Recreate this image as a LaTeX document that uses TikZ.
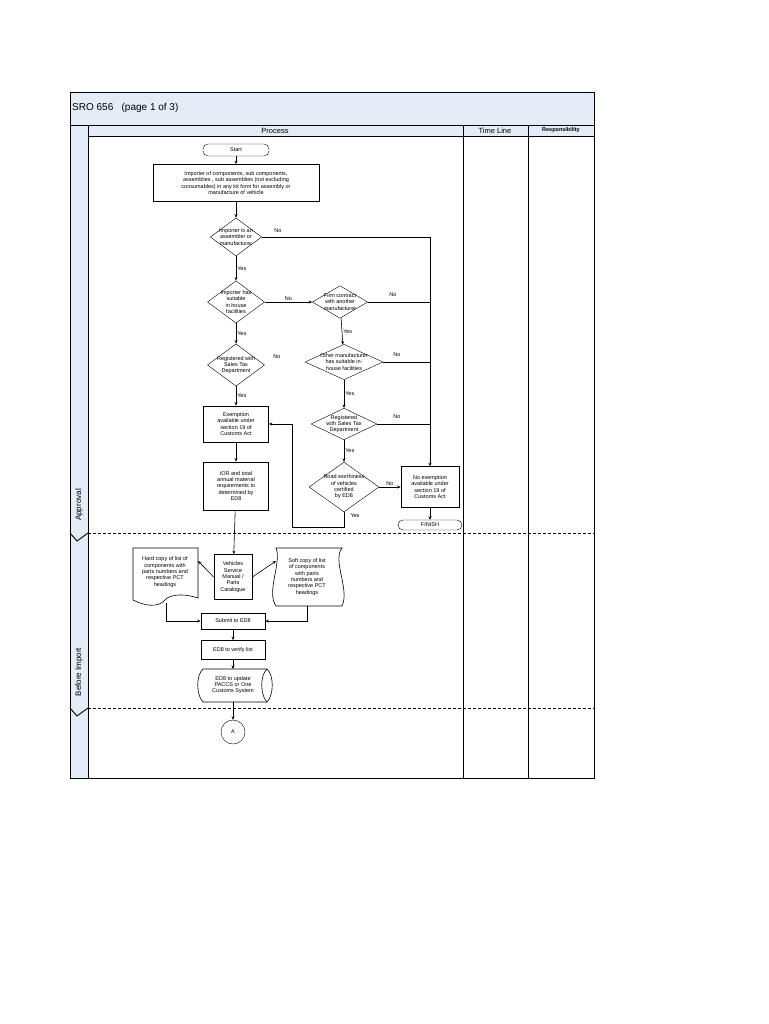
\documentclass[tikz,border=0pt]{standalone}
\usepackage{fontspec}
\setmainfont{Liberation Sans}
\usetikzlibrary{shapes.geometric,arrows.meta}
\definecolor{lb}{HTML}{E4ECF7}
\begin{document}
\begin{tikzpicture}[x=1pt,y=-1pt,
 t/.style={font=\fontsize{5.5}{6.3}\selectfont,align=center,inner sep=0.5pt},
 box/.style={t,draw,line width=0.7pt,minimum width=#1},
 dia/.style={t,draw,diamond,aspect=1.35,inner sep=-1pt},
 lab/.style={font=\fontsize{5.5}{6}\selectfont,inner sep=1pt},
 ar/.style={-{Stealth[length=3.5pt,width=3pt]},line width=0.6pt},
 ln/.style={line width=0.6pt}]
\useasboundingbox (0,0) rectangle (768,1024);
% frame
\fill[lb] (70,92) rectangle (594,125);
\fill[lb] (70,125) rectangle (88,778);
\fill[lb] (88,125) rectangle (594,136);
\draw[line width=0.8pt] (70,92) rectangle (594,778);
\draw[line width=0.8pt] (70,125) -- (594,125);
\draw (88,136) -- (594,136);
\draw (88,125) -- (88,778);
\draw (463,125) -- (463,778);
\draw (528,125) -- (528,778);
\node[anchor=west,font=\fontsize{10}{12}\selectfont,inner sep=0] (title) at (72,108) {SRO 656\ \ \ (page 1 of 3)};
\node[font=\fontsize{7.5}{8}\selectfont] (hp) at (275,130.5) {Process};
\node[font=\fontsize{7.5}{8}\selectfont] (ht) at (495,130.5) {Time Line};
\node[font=\fontsize{5.5}{6}\selectfont\bfseries] (hr) at (561,130.5) {Responsibility};
\node[rotate=90,font=\fontsize{8}{9}\selectfont] (la) at (79,505) {Approval};
\node[rotate=90,font=\fontsize{8}{9}\selectfont] (lbi) at (79,672) {Before Import};
\draw[dashed,line width=1pt,dash pattern=on 3pt off 2pt] (88,533) -- (594,533);
\draw[dashed,line width=1pt,dash pattern=on 3pt off 2pt] (88,708) -- (594,708);
\draw[line width=0.9pt] (70,533) -- (77,541) -- (88,533);
\draw[line width=0.9pt] (70,708) -- (77,716) -- (88,708);
% nodes
\node[t,draw,rounded corners=5pt,minimum width=66pt,minimum height=12pt] (start) at (236,150) {Start};
\node[box=166pt,minimum height=37pt] (b1) at (236,183) {Importer of components, sub components,\\assemblies , sub assemblies (not excluding\\consumables) in any kit form for assembly or\\manufacture of vehicle};
\node[dia] (d1) at (236,237) {Importer is an\\assembler or\\manufacturer};
\node[dia] (d2) at (236,302) {Importer has\\suitable\\in house\\facilities};
\node[dia,aspect=1.7] (d3) at (340,302) {Firm contract\\with another\\manufacturer};
\node[dia] (d4) at (236,365) {Registered with\\Sales Tax\\Department};
\node[dia,aspect=2.2] (d5) at (344,362) {Other manufacturer\\has suitable in-\\house facilities};
\node[box=65pt,minimum height=36pt] (ex) at (236,424) {Exemption\\available under\\section 19 of\\Customs Act};
\node[dia,aspect=2.1] (d6) at (344,424) {Registered\\with Sales Tax\\Department};
\node[box=65pt,minimum height=48pt] (ior) at (236,486) {IOR and total\\annual material\\requirements to\\determined by\\ED8};
\node[dia,aspect=1.4] (d7) at (344,487) {Road worthiness\\of vehicles\\certified\\by ED8};
\node[box=58pt,minimum height=41pt] (nx) at (430,487) {No exemption\\available under\\section 19 of\\Customs Act};
\node[t,draw,rounded corners=5pt,minimum width=64pt,minimum height=10pt] (fin) at (430,525) {FINISH};
\node[box=38pt,minimum height=45pt] (veh) at (233,577) {Vehicles\\Service\\Manual /\\Parts\\Catalogue};
\node[t] (hc) at (165,572) {Hard copy of list of\\components with\\parts numbers and\\respective PCT\\headings};
\draw[ln] (133,548) -- (198,548) -- (198,598) .. controls (180,592) and (168,596) .. (165,600) .. controls (158,608) and (145,606) .. (133,600) -- cycle;
\node[t] (sc) at (307,577) {Soft copy of list\\of components\\with parts\\numbers and\\respective PCT\\headings};
\draw[ln] (276,548) -- (342,548) .. controls (332,560) and (350,590) .. (342,606) -- (276,606) .. controls (266,592) and (282,562) .. (276,548) -- cycle;
\node[box=64pt,minimum height=16pt] (sub) at (233,621) {Submit to ED8};
\node[box=64pt,minimum height=19pt] (ver) at (233,650) {ED8 to verify list};
\node[t] (upd) at (233,685) {ED8 to update\\PACCS or One\\Customs System};
\draw[ln] (203,669) -- (267,669) .. controls (274,675) and (274,695) .. (267,702) -- (203,702) .. controls (196,695) and (196,675) .. (203,669);
\draw[ln] (267,669) .. controls (260,675) and (260,695) .. (267,702);
\coordinate (updt) at (233,669);
\coordinate (updb) at (233,702);
\node[circle,draw,minimum size=24pt,t] (A) at (233,732) {A};
% connectors
\draw[ar] (start) -- (b1);
\draw[ar] (b1) -- (d1);
\draw[ar] (d1) -- node[lab,right]{Yes} (d2);
\draw[ar] (d2) -- node[lab,right]{Yes} (d4);
\draw[ar] (d4) -- node[lab,right]{Yes} (ex);
\draw[ar] (ex) -- (ior);
\draw[ar] (d2) -- node[lab,above]{No} (d3);
\draw[ar] (d3) -- node[lab,right]{Yes} (d5);
\draw[ar] (d5) -- node[lab,right]{Yes} (d6);
\draw[ar] (d6) -- node[lab,right]{Yes} (d7);
\draw[ar] (d7) -- node[lab,above]{No} (nx);
\draw[ar] (nx) -- (fin);
\draw[ar] (d1.east) -- (430,237) -- (nx.north);
\draw[ln] (d3.east) -- (430,302);
\draw[ln] (d5.east) -- (430,362);
\draw[ln] (d6.east) -- (430,424);
\node[lab] (n1) at (278,231) {No};
\node[lab] (n3) at (393,295) {No};
\node[lab] (n4) at (277,357) {No};
\node[lab] (n5) at (397,355) {No};
\node[lab] (n6) at (397,417) {No};
\draw[ar] (d7.south) -- (344,527) -- (292,527) -- (292,424) -- (ex.east);
\node[lab] (y7) at (355,516) {Yes};
\draw[ar] (ior) -- (veh);
\draw[ar] (veh.west) -- (198,561);
\draw[ar] (veh.east) -- (276,561);
\draw[ar] (166,603) -- (166,621) -- (sub.west);
\draw[ar] (307,606) -- (307,621) -- (sub.east);
\draw[ar] (sub) -- (ver);
\draw[ar] (ver) -- (updt);
\draw[ar] (updb) -- (A);
\end{tikzpicture}
\end{document}
